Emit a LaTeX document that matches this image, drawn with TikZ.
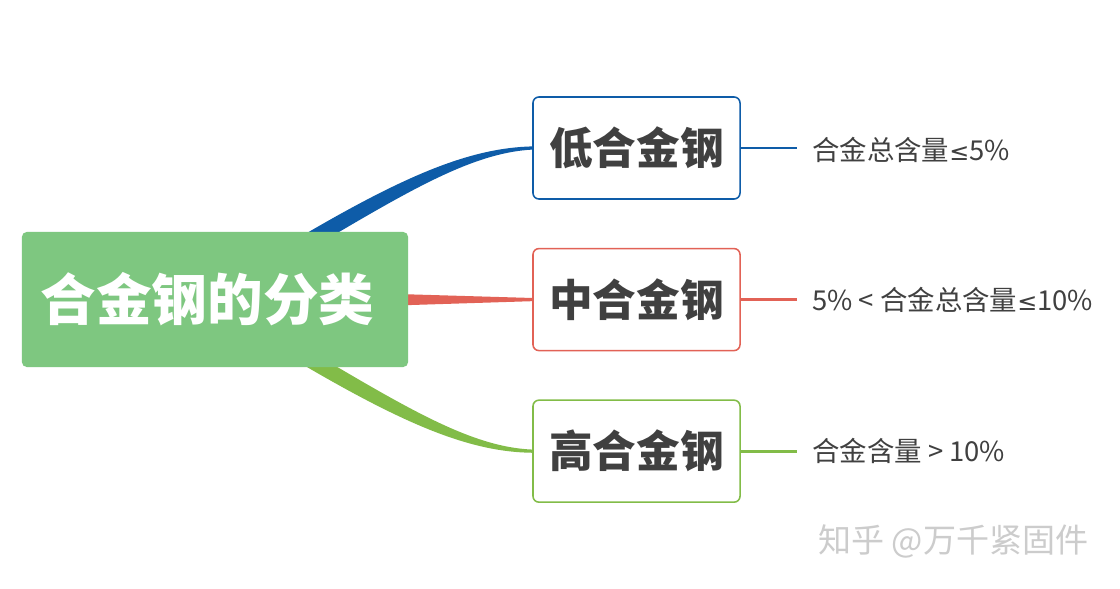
\documentclass[tikz,border=0pt]{standalone}
\usepackage{fontspec}
\setmainfont{Noto Sans CJK SC}
\newfontfamily\symfont{DejaVu Sans}
\usepackage{tikz}
\usepackage{xcolor}
\definecolor{rootgreen}{RGB}{126,199,128}
\definecolor{lowblue}{RGB}{14,92,168}
\definecolor{midred}{RGB}{226,98,86}
\definecolor{highgreen}{RGB}{130,188,72}
\definecolor{textgray}{RGB}{64,64,64}
\usetikzlibrary{positioning,backgrounds}

\newcommand{\lesseq}{{\symfont\fontsize{17}{20}\selectfont ≤}}

\tikzset{
	root/.style={fill=rootgreen, rounded corners=0.12cm, minimum width=9.65cm, minimum height=3.375cm, inner sep=0pt, text=white, font=\fontsize{39.5}{47}\selectfont\bfseries},
	kind/.style={draw, fill=white, line width=1.1pt, rounded corners=0.15cm, minimum width=5.175cm, minimum height=2.55cm, inner sep=0pt, text=textgray, font=\fontsize{31}{37}\selectfont\bfseries},
	leaf/.style={anchor=west, inner sep=0pt, text=textgray, font=\fontsize{19.5}{23}\selectfont},
	twig/.style={line width=2.1pt, shorten >=0.375cm}
}

\begin{document}
\begin{tikzpicture}[x=0.025cm, y=-0.025cm]
				\useasboundingbox (0,0) rectangle (1120,589);
				% main node
				\node[root] (root) at (215,299.5) {合金钢的分类\hspace*{0.375cm}};
				\node[kind, draw=lowblue] (low) at (636.5,148) {低合金钢};
				\node[kind, draw=midred, below=1.2cm of low] (mid) {中合金钢};
				\node[kind, draw=highgreen, below=1.2cm of mid] (high) {高合金钢};
				% leaves
				\node[leaf] (lowtext) at (812,150) {合金总含量\lesseq5\%};
				\node[leaf] (midtext) at (812,300) {5\% < 合金总含量\lesseq10\%};
				\node[leaf] (hightext) at (812,451) {合金含量 > 10\%};
				\draw[twig, lowblue] (low.east) -- (low.east -| lowtext.west);
				\draw[twig, midred] (mid.east) -- (mid.east -| midtext.west);
				\draw[twig, highgreen] (high.east) -- (high.east -| hightext.west);
				% tapered branches
				\begin{scope}[on background layer]
				\fill[white] (0,0) rectangle (1120,589);
				\fill[lowblue] (295,240) .. controls (405,175) and (470,148) .. ([yshift=0.04cm]low.west)
					-- ([yshift=-0.04cm]low.west) .. controls (470,153) and (405,193) .. (295,258) -- cycle;
				\fill[midred] (380,293.5) -- ([yshift=0.04cm]mid.west) -- ([yshift=-0.04cm]mid.west) -- (380,306) -- cycle;
				\fill[highgreen] (295,360) .. controls (405,425) and (470,452) .. ([yshift=-0.04cm]high.west)
					-- ([yshift=0.04cm]high.west) .. controls (470,447) and (405,407) .. (295,342) -- cycle;
				\end{scope}
				%\node[anchor=west] at (818,541) {};
				\node[anchor=west, inner sep=0pt, text=gray!40, font=\fontsize{23.5}{28}\selectfont] (mark) at (818,541) {知乎 @万千紧固件};
\end{tikzpicture}
\end{document}
